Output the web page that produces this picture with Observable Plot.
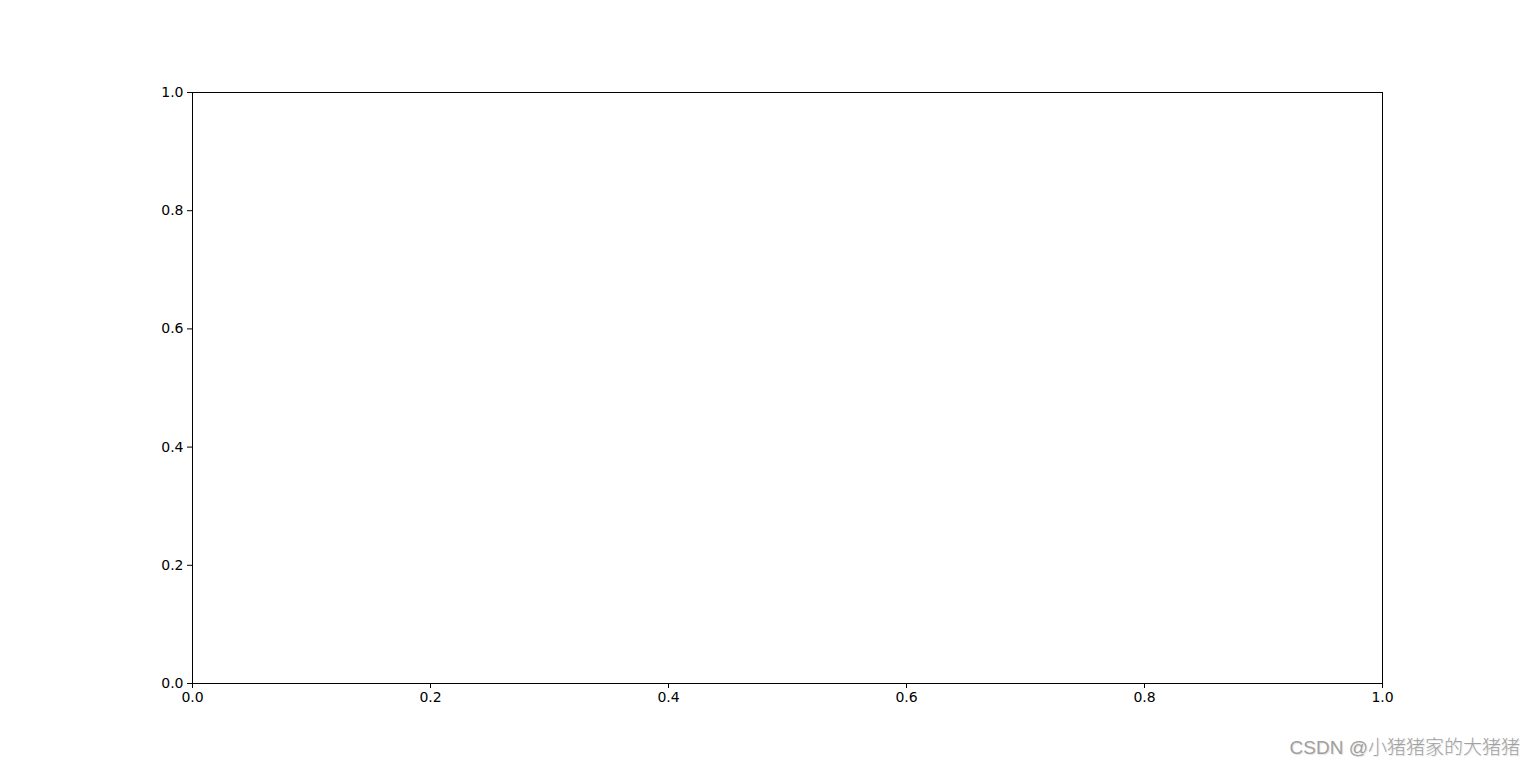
<!DOCTYPE html>
<html>
<head>
<meta charset="utf-8">
<script src="https://cdn.jsdelivr.net/npm/d3@7"></script>
<script src="https://cdn.jsdelivr.net/npm/@observablehq/plot@0.6"></script>
<style>
  html, body { margin: 0; padding: 0; background: #fff; }
  #wrap { position: relative; width: 1536px; height: 767px; }
  #wm { position: absolute; right: 16px; top: 735px; font-family: "Liberation Sans", "Noto Sans CJK SC", sans-serif;
        font-size: 19px; font-weight: 300; color: #a0a0a0; text-shadow: 1px 1px 1px #e4e4e4; white-space: nowrap; line-height: 26px; }
</style>
</head>
<body>
<div id="wrap"></div>
<script>
const xDomain = [0, 1];
const yDomain = [0, 1];
const xTicks = [0, 0.2, 0.4, 0.6, 0.8, 1.0];
const yTicks = [0, 0.2, 0.4, 0.6, 0.8, 1.0];
const watermark = "CSDN @小猪猪家的大猪猪";

const chart = Plot.plot({
  width: 1536,
  height: 767,
  marginLeft: 192,
  marginRight: 154,
  marginTop: 92,
  marginBottom: 84,
  style: { fontFamily: "DejaVu Sans", fontSize: "14px", color: "#000", background: "#fff" },
  x: { domain: xDomain },
  y: { domain: yDomain },
  marks: [
    Plot.frame({ stroke: "#000", strokeWidth: 1 }),
    Plot.axisX({ ticks: xTicks, tickFormat: d3.format(".1f"), tickSize: 5, tickPadding: 4, label: null, fontSize: 14 }),
    Plot.axisY({ ticks: yTicks, tickFormat: d3.format(".1f"), tickSize: 5, tickPadding: 4, label: null, fontSize: 14 })
  ]
});
const wrap = document.getElementById("wrap");
wrap.appendChild(chart);
const wm = document.createElement("div");
wm.id = "wm";
wm.textContent = watermark;
wrap.appendChild(wm);
</script>
</body>
</html>
